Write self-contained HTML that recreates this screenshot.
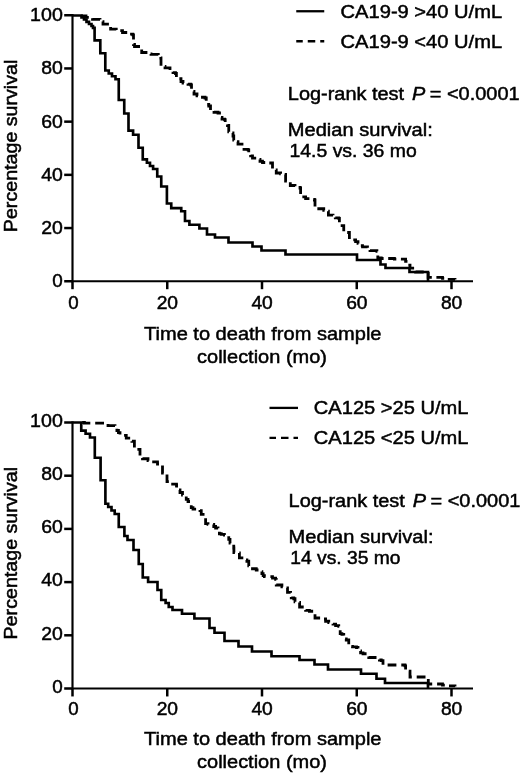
<!DOCTYPE html>
<html><head><meta charset="utf-8"><title>Survival curves</title>
<style>
html,body{margin:0;padding:0;background:#fff;}
svg{display:block;}
text{font-family:"Liberation Sans",sans-serif;font-size:19.2px;fill:#000;stroke:#000;stroke-width:0.5px;}
text.d{font-size:19px;}
.ax{fill:none;stroke:#000;stroke-width:2.15;}
.tk{fill:none;stroke:#000;stroke-width:2.5;}
.cv{fill:none;stroke:#000;stroke-width:2.65;stroke-linejoin:miter;}
.dd{stroke-width:2.8;}
.lg{stroke-width:2.3;}
</style></head>
<body>
<svg width="520" height="774" viewBox="0 0 520 774">
<rect width="520" height="774" fill="#fff"/>
<g transform="translate(0,0)">
<path d="M72.5 14.1 V281.25 H473" class="ax"/>
<path d="M64.2 281.25 H72.5" class="tk"/>
<path d="M64.2 228.05 H72.5" class="tk"/>
<path d="M64.2 174.85 H72.5" class="tk"/>
<path d="M64.2 121.65 H72.5" class="tk"/>
<path d="M64.2 68.45 H72.5" class="tk"/>
<path d="M64.2 15.25 H72.5" class="tk"/>
<path d="M72.50 281.25 V289.2" class="tk"/>
<path d="M167.25 281.25 V289.2" class="tk"/>
<path d="M262.00 281.25 V289.2" class="tk"/>
<path d="M356.75 281.25 V289.2" class="tk"/>
<path d="M451.50 281.25 V289.2" class="tk"/>
<text x="62.8" y="287.25" text-anchor="end" textLength="10.5" lengthAdjust="spacingAndGlyphs" class="d">0</text>
<text x="62.8" y="234.05" text-anchor="end" textLength="21.6" lengthAdjust="spacingAndGlyphs" class="d">20</text>
<text x="62.8" y="180.85" text-anchor="end" textLength="21.6" lengthAdjust="spacingAndGlyphs" class="d">40</text>
<text x="62.8" y="127.65" text-anchor="end" textLength="21.6" lengthAdjust="spacingAndGlyphs" class="d">60</text>
<text x="62.8" y="74.45" text-anchor="end" textLength="21.6" lengthAdjust="spacingAndGlyphs" class="d">80</text>
<text x="62.8" y="21.25" text-anchor="end" textLength="32.7" lengthAdjust="spacingAndGlyphs" class="d">100</text>
<text x="73.40" y="309.3" text-anchor="middle" textLength="10.4" lengthAdjust="spacingAndGlyphs" class="d">0</text>
<text x="167.35" y="309.3" text-anchor="middle" textLength="21.4" lengthAdjust="spacingAndGlyphs" class="d">20</text>
<text x="262.10" y="309.3" text-anchor="middle" textLength="21.4" lengthAdjust="spacingAndGlyphs" class="d">40</text>
<text x="356.85" y="309.3" text-anchor="middle" textLength="21.4" lengthAdjust="spacingAndGlyphs" class="d">60</text>
<text x="451.60" y="309.3" text-anchor="middle" textLength="21.4" lengthAdjust="spacingAndGlyphs" class="d">80</text>
<text transform="translate(16.9,145.9) rotate(-90)" text-anchor="middle" textLength="172.5" lengthAdjust="spacingAndGlyphs">Percentage survival</text>
<text x="262.75" y="340" text-anchor="middle" textLength="237.5" lengthAdjust="spacingAndGlyphs">Time to death from sample</text>
<text x="262.0" y="362.9" text-anchor="middle" textLength="129.9" lengthAdjust="spacingAndGlyphs">collection (mo)</text>
<path d="M296.25 11.25 H324.25" class="cv lg"/>
<path d="M296.25 41.25 H324.25" class="cv lg" stroke-dasharray="7.5 5" stroke-dashoffset="1"/>
<text x="340.6" y="17.5" text-anchor="start" textLength="161.5" lengthAdjust="spacingAndGlyphs">CA19-9 &gt;40 U/mL</text>
<text x="340.6" y="47.7" text-anchor="start" textLength="161.5" lengthAdjust="spacingAndGlyphs">CA19-9 &lt;40 U/mL</text>
<text y="99.9"><tspan x="287.8" textLength="116.3" lengthAdjust="spacingAndGlyphs">Log-rank test</tspan> <tspan x="411.9" font-style="italic" textLength="13.3" lengthAdjust="spacingAndGlyphs">P</tspan> <tspan x="429.8" textLength="89.8" lengthAdjust="spacingAndGlyphs">= &lt;0.0001</tspan></text>
<text x="287.8" y="136.3" text-anchor="start" textLength="145" lengthAdjust="spacingAndGlyphs">Median survival:</text>
<text x="289.5" y="157.1" text-anchor="start" textLength="127.2" lengthAdjust="spacingAndGlyphs">14.5 vs. 36 mo</text>
<path d="M72.50 15.50 H81.50 V17.30 H84.00 V19.50 H86.50 V21.80 H89.00 V24.00 H91.50 V26.00 H93.00 V27.80 H94.60 V40.40 H100.30 V53.20 H105.30 V70.50 H108.75 V73.50 H112.00 V76.25 H115.50 V79.25 H118.75 V100.00 H124.25 V113.50 H128.50 V130.60 H133.10 V134.75 H138.50 V147.75 H142.75 V159.40 H146.90 V162.75 H150.00 V166.00 H153.10 V169.00 H157.25 V176.50 H161.25 V186.50 H166.90 V203.50 H171.25 V208.10 H181.25 V211.25 H185.00 V221.00 H189.40 V224.75 H199.40 V228.50 H207.00 V234.50 H215.00 V237.50 H228.50 V242.50 H252.50 V246.50 H261.50 V250.50 H285.50 V254.50 H357.00 V260.00 H380.50 V264.50 H385.50 V268.00 H409.50 V272.00 H428.00 V281.25" class="cv"/>
<path d="M81.00 15.50 V16.00 H86.00 V16.50 V17.30 H92.50 V18.10 V19.35 H100.00 V20.60 V21.55 H103.00 V22.50 V24.05 H107.50 V25.60 V26.55 H110.60 V27.50 V29.05 H116.25 V30.60 H122.50 V30.80 V32.50 H127.50 V34.20 H132.80 V34.80 H133.50 V44.50 H134.50 V45.50 V46.50 H140.00 V47.50 H141.70 V51.00 V52.50 H147.50 V54.00 H151.00 V54.30 H158.30 V55.00 V56.50 H160.80 V58.00 H161.00 V66.00 V66.45 H165.00 V66.90 V67.95 H170.00 V69.00 V70.35 H173.00 V71.70 V72.60 H175.50 V73.50 H176.40 V77.50 V78.75 H181.00 V80.00 V81.50 H183.00 V83.00 H188.00 V83.50 V84.25 H190.80 V85.00 H191.50 V90.00 V91.50 H194.00 V93.00 V94.00 H197.00 V95.00 V95.75 H201.00 V96.50 V97.25 H205.00 V98.00 H206.25 V103.00 V104.50 H208.75 V106.00 H210.50 V109.50 V110.50 H214.00 V111.50 V112.25 H218.00 V113.00 H219.50 V116.50 V117.50 H222.00 V118.50 V119.05 H224.60 V119.60 H225.20 V122.50 V124.00 H227.50 V125.50 H228.75 V130.60 V131.80 H231.50 V133.00 H233.00 V136.00 H233.75 V139.40 V140.20 H236.00 V141.00 V141.75 H238.00 V142.50 V144.05 H242.00 V145.60 V147.18 H244.00 V148.75 V149.28 H248.00 V149.80 H248.75 V153.00 V153.70 H250.60 V154.40 V155.95 H252.50 V157.50 V158.12 H256.25 V158.75 V159.38 H260.00 V160.00 V161.25 H262.50 V162.50 H265.60 V163.00 H271.90 V163.00 H272.50 V168.00 V169.00 H275.00 V170.00 H276.25 V173.00 H280.60 V173.75 H284.40 V174.40 H285.60 V180.00 V181.00 H288.75 V182.00 H290.30 V185.00 V185.50 H295.00 V186.00 V186.65 H297.50 V187.30 H300.00 V188.00 H300.60 V194.40 V195.00 H303.75 V195.60 V196.80 H305.60 V198.00 V198.70 H309.40 V199.40 H314.40 V200.00 H315.00 V207.00 H316.25 V208.75 H323.75 V209.40 V210.32 H326.90 V211.25 H328.40 V214.70 V215.15 H333.00 V215.60 V216.55 H335.30 V217.50 V217.95 H338.75 V218.40 H339.40 V223.75 H340.60 V225.60 H343.75 V231.90 H346.25 V232.50 H349.40 V239.60 H351.90 V239.80 H355.60 V240.60 V241.55 H358.00 V242.50 V243.45 H360.60 V244.40 V245.65 H362.50 V246.90 H367.50 V247.50 V248.75 H370.00 V250.00 V250.62 H376.90 V251.25 H377.80 V257.50 V258.00 H381.25 V258.50 H394.40 V258.75 V259.18 H405.60 V259.60 V261.45 H407.80 V263.30 V265.15 H410.00 V267.00 V268.20 H414.40 V269.40 H415.60 V272.00 H427.50 V272.00 H428.20 V277.30 H442.50 V277.30 V278.30 H447.50 V279.30 H455.00 V279.50" class="cv dd" stroke-dasharray="8.8 4.6" stroke-dashoffset="-0.8"/>
</g>
<g transform="translate(0,407.25)">
<path d="M72.5 14.1 V281.25 H473" class="ax"/>
<path d="M64.2 281.25 H72.5" class="tk"/>
<path d="M64.2 228.05 H72.5" class="tk"/>
<path d="M64.2 174.85 H72.5" class="tk"/>
<path d="M64.2 121.65 H72.5" class="tk"/>
<path d="M64.2 68.45 H72.5" class="tk"/>
<path d="M64.2 15.25 H72.5" class="tk"/>
<path d="M72.50 281.25 V289.2" class="tk"/>
<path d="M167.25 281.25 V289.2" class="tk"/>
<path d="M262.00 281.25 V289.2" class="tk"/>
<path d="M356.75 281.25 V289.2" class="tk"/>
<path d="M451.50 281.25 V289.2" class="tk"/>
<text x="62.8" y="285.55" text-anchor="end" textLength="10.5" lengthAdjust="spacingAndGlyphs" class="d">0</text>
<text x="62.8" y="232.35" text-anchor="end" textLength="21.6" lengthAdjust="spacingAndGlyphs" class="d">20</text>
<text x="62.8" y="179.15" text-anchor="end" textLength="21.6" lengthAdjust="spacingAndGlyphs" class="d">40</text>
<text x="62.8" y="125.95" text-anchor="end" textLength="21.6" lengthAdjust="spacingAndGlyphs" class="d">60</text>
<text x="62.8" y="72.75" text-anchor="end" textLength="21.6" lengthAdjust="spacingAndGlyphs" class="d">80</text>
<text x="62.8" y="19.55" text-anchor="end" textLength="32.7" lengthAdjust="spacingAndGlyphs" class="d">100</text>
<text x="73.40" y="307.6" text-anchor="middle" textLength="10.4" lengthAdjust="spacingAndGlyphs" class="d">0</text>
<text x="167.35" y="307.6" text-anchor="middle" textLength="21.4" lengthAdjust="spacingAndGlyphs" class="d">20</text>
<text x="262.10" y="307.6" text-anchor="middle" textLength="21.4" lengthAdjust="spacingAndGlyphs" class="d">40</text>
<text x="356.85" y="307.6" text-anchor="middle" textLength="21.4" lengthAdjust="spacingAndGlyphs" class="d">60</text>
<text x="451.60" y="307.6" text-anchor="middle" textLength="21.4" lengthAdjust="spacingAndGlyphs" class="d">80</text>
<text transform="translate(16.9,145.9) rotate(-90)" text-anchor="middle" textLength="172.5" lengthAdjust="spacingAndGlyphs">Percentage survival</text>
<text x="262.75" y="337.75" text-anchor="middle" textLength="237.5" lengthAdjust="spacingAndGlyphs">Time to death from sample</text>
<text x="262.0" y="360.65" text-anchor="middle" textLength="129.9" lengthAdjust="spacingAndGlyphs">collection (mo)</text>
<path d="M269.5 0.6500000000000004 H298.0" class="cv lg"/>
<path d="M269.5 30.65 H298.0" class="cv lg" stroke-dasharray="7.5 5" stroke-dashoffset="1"/>
<text x="313.85" y="6.9" text-anchor="start" textLength="154.5" lengthAdjust="spacingAndGlyphs">CA125 &gt;25 U/mL</text>
<text x="313.85" y="37.1" text-anchor="start" textLength="154.5" lengthAdjust="spacingAndGlyphs">CA125 &lt;25 U/mL</text>
<text y="99.35000000000001"><tspan x="288.55" textLength="116.3" lengthAdjust="spacingAndGlyphs">Log-rank test</tspan> <tspan x="412.65" font-style="italic" textLength="13.3" lengthAdjust="spacingAndGlyphs">P</tspan> <tspan x="430.55" textLength="89.8" lengthAdjust="spacingAndGlyphs">= &lt;0.0001</tspan></text>
<text x="288.55" y="135.75" text-anchor="start" textLength="145" lengthAdjust="spacingAndGlyphs">Median survival:</text>
<text x="290.25" y="156.54999999999998" text-anchor="start" textLength="110.3" lengthAdjust="spacingAndGlyphs">14 vs. 35 mo</text>
<path d="M72.50 15.25 H81.25 V23.35 H85.60 V26.50 H90.00 V30.25 H94.80 V50.50 H100.60 V73.00 H105.40 V96.50 H108.20 V99.75 H111.50 V103.25 H114.70 V106.75 H118.75 V119.75 H124.40 V128.75 H127.50 V132.75 H133.50 V142.75 H138.75 V156.75 H142.75 V170.25 H148.10 V174.75 H157.50 V182.75 H161.25 V192.75 H165.60 V195.75 H168.75 V199.75 H172.50 V202.75 H182.00 V206.50 H194.40 V211.25 H209.50 V220.75 H214.50 V225.50 H224.50 V233.75 H238.50 V239.25 H252.00 V244.25 H271.50 V249.00 H299.50 V252.75 H314.50 V257.25 H328.00 V262.25 H361.00 V266.50 H376.50 V271.50 H385.00 V275.75 H428.00 V281.25" class="cv"/>
<path d="M80.50 15.25 H84.40 V15.85 H104.40 V15.95 V16.55 H108.00 V17.15 V18.40 H115.00 V19.65 V20.90 H116.90 V22.15 V23.24 H118.45 V24.32 V25.41 H120.00 V26.50 V28.07 H126.25 V29.65 V30.90 H128.75 V32.15 V33.07 H131.90 V34.00 H134.40 V40.75 V41.45 H136.90 V42.15 H140.00 V47.75 V49.00 H142.50 V50.25 V51.50 H148.00 V52.75 V53.38 H151.25 V54.00 V54.72 H157.50 V55.45 V56.75 H160.60 V58.05 H162.50 V65.75 H166.25 V65.95 H167.00 V73.35 V74.30 H171.25 V75.25 V76.80 H176.50 V78.35 H176.60 V82.75 H180.00 V83.35 V85.25 H182.50 V87.15 V87.75 H184.40 V88.35 H186.25 V92.15 H188.00 V92.75 V94.25 H190.00 V95.75 H191.25 V100.45 H193.00 V100.95 V101.85 H196.25 V102.75 H200.00 V103.35 H201.25 V107.15 H205.00 V107.75 H205.60 V115.75 V116.45 H208.00 V117.15 H213.75 V117.75 V119.25 H215.60 V120.75 H218.00 V120.95 H219.40 V126.50 H221.25 V127.15 H224.40 V127.75 H227.50 V128.35 H228.75 V132.15 H230.00 V135.25 V135.88 H232.50 V136.50 H233.75 V140.75 H233.90 V145.25 H237.50 V145.75 H239.40 V149.65 V150.57 H241.90 V151.50 V152.75 H246.90 V154.00 H248.75 V157.75 V158.70 H251.90 V159.65 H252.50 V161.50 H256.25 V162.15 V162.75 H260.00 V163.35 V164.30 H261.90 V165.25 V166.30 H263.15 V167.35 V168.40 H264.40 V169.45 H272.50 V169.65 V170.90 H275.60 V172.15 H276.25 V177.15 V177.75 H281.90 V178.35 V179.55 H286.25 V180.75 H287.50 V184.65 V185.20 H290.60 V185.75 H291.25 V189.65 V190.57 H293.75 V191.50 H295.00 V194.00 V194.62 H299.40 V195.25 H299.60 V199.25 V199.75 H304.40 V200.25 H305.60 V202.15 V203.07 H309.40 V204.00 H314.40 V204.65 H315.00 V210.75 H323.00 V210.75 V211.75 H325.60 V212.75 V214.00 H328.75 V215.25 H333.00 V215.25 V216.80 H335.60 V218.35 H338.75 V219.00 H340.00 V222.75 H340.20 V225.75 V226.45 H341.90 V227.15 H343.75 V230.75 V231.75 H346.25 V232.75 H348.75 V238.75 V239.20 H352.50 V239.65 H356.50 V240.25 H358.00 V242.75 V243.70 H360.60 V244.65 V245.57 H363.00 V246.50 H367.50 V247.15 H368.75 V250.25 H376.90 V250.75 V251.45 H379.40 V252.15 V252.75 H381.25 V253.35 H383.00 V257.75 H395.60 V257.75 H405.00 V258.55 H405.60 V262.75 V263.38 H408.00 V264.00 H410.00 V269.75 H427.50 V270.25 H428.30 V276.75 H442.50 V277.15 V277.85 H447.00 V278.55 H455.00 V279.25" class="cv dd" stroke-dasharray="8.8 4.9" stroke-dashoffset="-1.6"/>
</g>
</svg>
</body></html>
